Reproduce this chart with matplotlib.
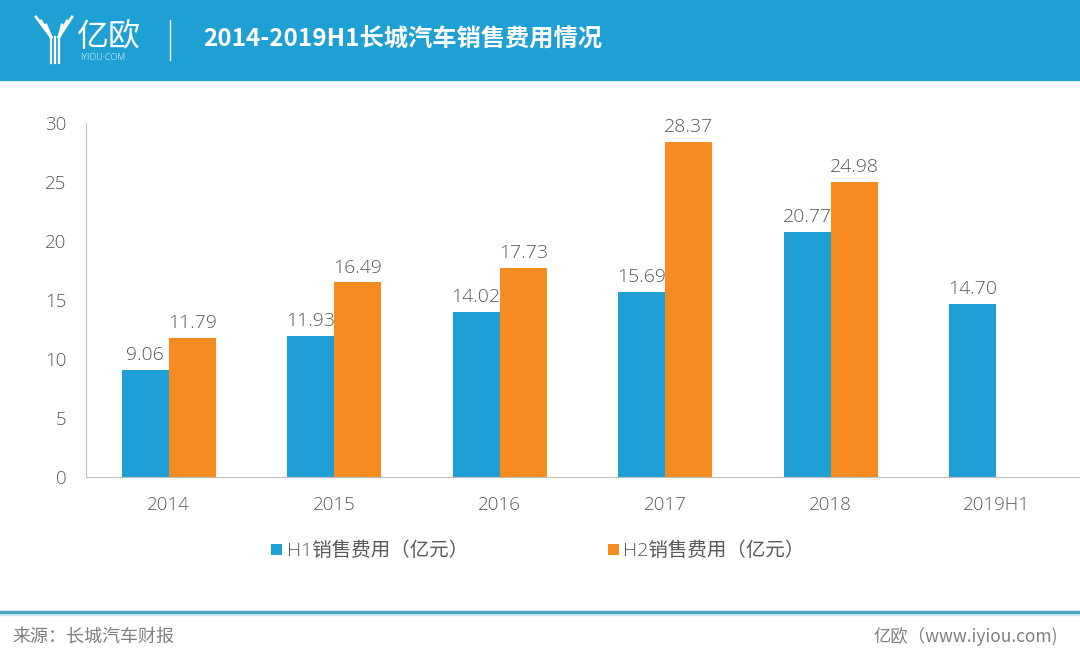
import numpy as np
from matplotlib import pyplot as plt
from matplotlib.patches import Rectangle
from matplotlib.lines import Line2D

plt.rcParams['font.family'] = ['Open Sans', 'Noto Sans CJK SC', 'DejaVu Sans']
plt.rcParams['font.weight'] = 'light'

years = ['2014', '2015', '2016', '2017', '2018', '2019H1']
h1 = [9.06, 11.93, 14.02, 15.69, 20.77, 14.70]
h2 = [11.79, 16.49, 17.73, 28.37, 24.98]  # no H2 for 2019
h1_label = 'H1销售费用（亿元）'
h2_label = 'H2销售费用（亿元）'
title = '2014-2019H1长城汽车销售费用情况'
source = '来源：长城汽车财报'
site = '亿欧（www.iyiou.com)'

blue = '#1f9fd5'
orange = '#f68b1f'
grey = '#595959'

W, H = 1080, 664
fig = plt.figure(figsize=(W / 100, H / 100), dpi=100)

# header band
fig.patches.append(Rectangle((0, 1 - 80 / H), 1, 80 / H, transform=fig.transFigure,
                             color='#1ea0d5', zorder=0))
# simple logo strokes
for i, dx in enumerate([0, 5, 10]):
    fig.lines.append(Line2D([(36 + dx) / W, (51) / W], [1 - (17 + i * 4) / H, 1 - 37 / H],
                            transform=fig.transFigure, color='white', lw=2))
    fig.lines.append(Line2D([(72 - dx) / W, (59) / W], [1 - (17 + i * 4) / H, 1 - 37 / H],
                            transform=fig.transFigure, color='white', lw=2))
for dx in [-4, 0, 4]:
    fig.lines.append(Line2D([(55 + dx) / W, (55 + dx) / W], [1 - 37 / H, 1 - 63 / H],
                            transform=fig.transFigure, color='white', lw=1.6))
fig.text(76 / W, 1 - 37 / H, '亿欧', color='white', fontsize=23, va='center', ha='left',
         family=['Noto Sans CJK SC'], fontweight='light')
fig.text(80 / W, 1 - 57 / H, 'IYIOU·COM', color='white', fontsize=6.5, va='center', ha='left')
fig.lines.append(Line2D([170 / W, 170 / W], [1 - 20 / H, 1 - 60 / H], transform=fig.transFigure,
                        color='white', lw=1))
fig.text(203 / W, 1 - 40 / H, title, color='white', fontsize=17.5, fontweight='bold',
         va='center', ha='left', family=['Noto Sans CJK SC', 'DejaVu Sans'])

# chart
ax = fig.add_axes([86 / W, 1 - 477 / H, (1079 - 86) / W, (477 - 123) / H])
x = np.arange(len(years))
w = 0.285
ax.bar(x - w / 2, h1, width=w, color=blue, label=h1_label, zorder=2)
ax.bar(x[:len(h2)] + w / 2, h2, width=w, color=orange, label=h2_label, zorder=2)
for xi, v in zip(x, h1):
    ax.text(xi - w / 2, v + 0.5, f'{v:.2f}', ha='center', va='bottom', fontsize=14, color=grey)
for xi, v in zip(x, h2):
    ax.text(xi + w / 2, v + 0.5, f'{v:.2f}', ha='center', va='bottom', fontsize=14, color=grey)

ax.set_xlim(-0.5, 5.5)
ax.set_ylim(0, 30)
ax.set_yticks(range(0, 31, 5))
ax.set_xticks(x)
ax.set_xticklabels(years)
ax.tick_params(axis='both', length=0, labelsize=13.5, colors=grey)
ax.tick_params(axis='x', pad=14)
ax.tick_params(axis='y', pad=14)
for s in ['top', 'right']:
    ax.spines[s].set_visible(False)
ax.spines['left'].set_color('#bfbfbf')
ax.spines['bottom'].set_color('#bfbfbf')

leg = fig.legend(loc='center', bbox_to_anchor=(538 / W, 1 - 551 / H), ncol=2, frameon=False,
                 fontsize=14, handlelength=0.55, handleheight=0.55, handletextpad=0.25,
                 columnspacing=7.2, labelcolor=grey)

# footer
fig.lines.append(Line2D([0, 1], [1 - 612 / H, 1 - 612 / H], transform=fig.transFigure,
                        color='#4aa5c2', lw=2.5))
fig.lines.append(Line2D([0, 1], [1 - 614.5 / H, 1 - 614.5 / H], transform=fig.transFigure,
                        color='#bfe6f3', lw=1))
fig.text(12 / W, 1 - 637 / H, source, color='#7f7f7f', fontsize=13, va='center', ha='left',
         family=['Noto Sans CJK SC', 'DejaVu Sans'], fontweight='light')
fig.text(1058 / W, 1 - 637 / H, site, color='#7f7f7f', fontsize=12.5, va='center', ha='right',
         family=['Noto Sans CJK SC', 'DejaVu Sans'], fontweight='light')

fig.savefig('out.png', dpi=100)
